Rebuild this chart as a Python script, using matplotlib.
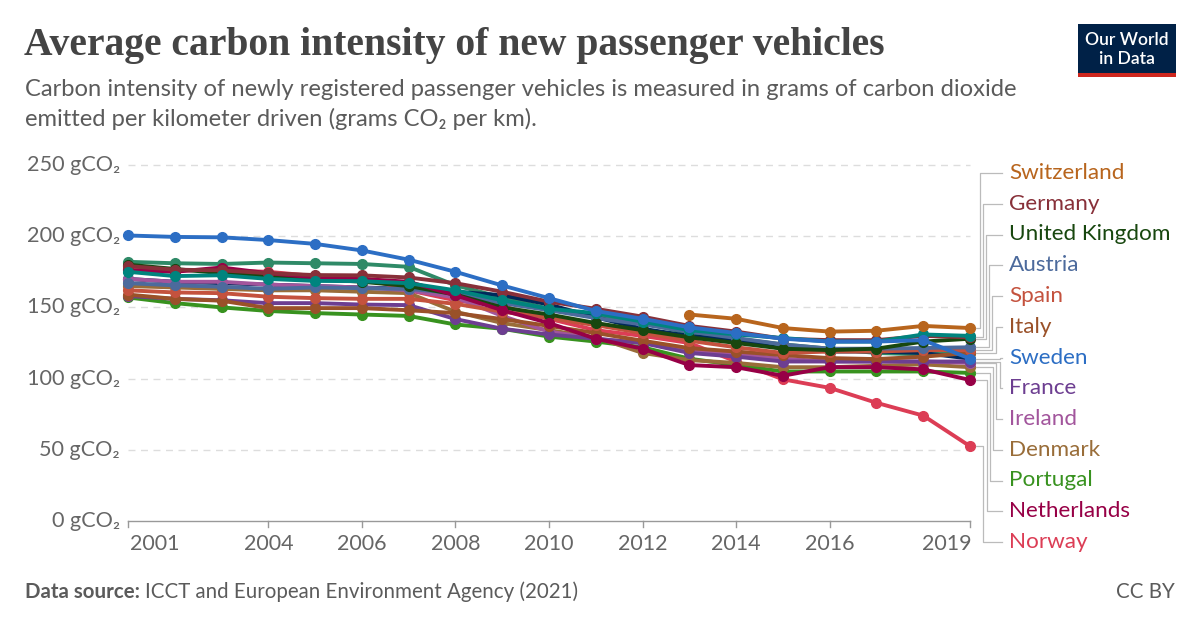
import matplotlib
matplotlib.use("Agg")
import matplotlib.pyplot as plt
from matplotlib.patches import Rectangle
from matplotlib.lines import Line2D

years = list(range(2001, 2020))

# Labelled series (in legend order, top to bottom)
switzerland_years = [2013, 2014, 2015, 2016, 2017, 2018, 2019]
switzerland = [145, 142, 135.5, 133, 133.6, 137, 135.5]
germany = [179, 176.5, 176, 174, 172.7, 172.5, 171, 167, 161, 154, 149, 143.5, 137, 133, 128, 127, 127, 130, 129]
united_kingdom = [180, 177, 174, 172, 170, 168, 165, 159, 150, 145, 139, 134, 129, 125, 121, 120, 121, 126, 128]
austria = [167, 165.5, 164.5, 163, 164, 163.5, 163, 160, 153, 148, 142.5, 138, 133, 128.5, 124, 121, 121, 121.5, 122]
spain = [162, 160.5, 160, 157.5, 156.5, 156, 156, 152.5, 147, 142.5, 137.5, 132, 126.6, 122, 118, 119, 119, 120, 120]
italy = [159, 156, 154.7, 149.5, 149.5, 149.5, 148, 146, 141.8, 137, 132, 126.6, 121.4, 119, 116.5, 114.4, 113.7, 115.4, 118]
sweden = [200.5, 199.5, 199.2, 197.3, 194.6, 190, 183.5, 175, 165.4, 156.5, 147.5, 142, 136, 132, 128, 126, 126, 127, 114]
france = [158, 156, 155, 153, 153, 152, 151.6, 141.8, 135, 131, 128, 125, 118, 115.4, 112, 112, 112, 112, 112]
ireland = [170, 168, 168, 166, 165, 164, 162, 157, 144, 133, 128, 125, 120, 117, 114, 112, 112, 112, 111]
denmark = [165, 164, 163, 162, 162, 161, 160, 147, 139, 134, 129, 118, 113, 111, 108, 108, 109, 110, 108]
portugal = [157, 153, 150, 147.5, 146, 145, 144, 138, 135, 129.5, 126, 122, 114, 109.5, 105, 105, 105, 105, 104]
netherlands = [176, 175, 178, 174, 171, 170, 168, 158.5, 148, 139, 128, 121, 109.5, 108, 102, 108, 108, 106.5, 99]
norway = [177, 176, 176, 175, 172, 171, 162, 155, 151, 142, 134, 130, 125, 112, 99.5, 93.5, 83, 74, 52.5]

# Series drawn without a label in the reference
unlabeled_sea_green = [182, 181, 180.5, 181.5, 181, 180.5, 178.5, 165.5, 157, 149, 144, 139, 132, 128, 124, 121, 118, 117, 118]
unlabeled_teal = [175, 172, 172.6, 170, 168.6, 168.4, 167, 162, 155, 149, 146, 140, 134, 131, 128.5, 126, 126, 131, 130]
unlabeled_navy = [170, 168, 167, 166, 165, 164, 163, 161, 158.6, 152, 143, 135, 130, 127, 121, 119, 119, 118, 114]

labels = ["Switzerland", "Germany", "United Kingdom", "Austria", "Spain", "Italy", "Sweden",
          "France", "Ireland", "Denmark", "Portugal", "Netherlands", "Norway"]
colors = ["#b8651d", "#883039", "#18470f", "#4c6a9c", "#c4523e", "#9a5129", "#2c6ec4",
          "#6d3e91", "#a2559c", "#996d39", "#38921f", "#970046", "#dc3d55"]
series = [switzerland, germany, united_kingdom, austria, spain, italy, sweden,
          france, ireland, denmark, portugal, netherlands, norway]
series_x = [switzerland_years] + [years] * 12

unl_series = [unlabeled_sea_green, unlabeled_teal, unlabeled_navy]
unl_colors = ["#2f8a67", "#00847e", "#00295b"]

y_ticks = [0, 50, 100, 150, 200, 250]
x_ticks = [2001, 2004, 2006, 2008, 2010, 2012, 2014, 2016, 2019]

W, H = 1200, 627
fig = plt.figure(figsize=(W / 100, H / 100), dpi=100)
fig.patch.set_facecolor("white")

def fx(x):
    return x / W

def fy(y):
    return 1 - y / H

ax_l, ax_r, ax_t, ax_b = 128, 970, 165, 521
ax = fig.add_axes([fx(ax_l), fy(ax_b), (ax_r - ax_l) / W, (ax_b - ax_t) / H])
ax.set_xlim(2001, 2019)
ax.set_ylim(0, 250)
ax.axis("off")

# gridlines
for t in y_ticks[1:]:
    ax.plot([2001, 2019], [t, t], color="#dddddd", lw=1, ls=(0, (5, 4)), zorder=0, clip_on=False)
ax.plot([2001, 2019], [0, 0], color="#999999", lw=1, zorder=0, clip_on=False)

# tick marks
for t in x_ticks:
    ax.plot([t, t], [0, -4.5], color="#999999", lw=1, clip_on=False)

lw, ms = 2.8, 7

def draw(xs, ys, c, z):
    ax.plot(xs, ys, color=c, lw=lw, marker="o", ms=ms, clip_on=False, zorder=z)

# drawing order (bottom to top)
draw(years, unlabeled_sea_green, unl_colors[0], 1.9)
draw(years, unlabeled_navy, unl_colors[2], 2.0)
lab_order = [12, 10, 9, 8, 7, 5, 4, 3, 2, 11, 1]
z = 2.1
for i in lab_order:
    draw(series_x[i], series[i], colors[i], z)
    z += 0.01
draw(years, unlabeled_teal, unl_colors[1], z); z += 0.01
draw(series_x[6], series[6], colors[6], z); z += 0.01
draw(series_x[0], series[0], colors[0], z)

font = "Lato"
# y tick labels
for t in y_ticks:
    _, ypix = ax.transData.transform((2001, t))
    fig.text(fx(120), ypix / H, f"{t} gCO\u2082", ha="right", va="center",
             fontsize=15.6, color="#666666", family=font)

# x tick labels
for t in x_ticks:
    xpix, _ = ax.transData.transform((t, 0))
    ha = "center"
    if t == x_ticks[0]:
        ha = "left"
        xpix = xpix + 2
    elif t == x_ticks[-1]:
        ha = "right"
        xpix = xpix + 2
    fig.text(xpix / W, fy(544), str(t), ha=ha, va="center", fontsize=15.5,
             color="#666666", family=font)

# legend labels with connectors
label_y0, label_step = 173, 30.75
conn_x = [980, 983, 986, 989, 992, 996, 1000, 1000, 996, 993, 990, 987, 983]
for k, (lab, c, s, sx) in enumerate(zip(labels, colors, series, series_x)):
    ly = label_y0 + k * label_step
    ex, ey = ax.transData.transform((sx[-1], s[-1]))
    ey_pix = H - ey
    xs = [ex + 6, conn_x[k], conn_x[k], 1002]
    ys = [ey_pix, ey_pix, ly, ly]
    fig.add_artist(Line2D([fx(v) for v in xs], [fy(v) for v in ys], color="#bbbbbb",
                          lw=0.9, transform=fig.transFigure, zorder=1))
    fig.text(fx(1009), fy(ly), lab, ha="left", va="center", fontsize=16.2,
             color=c, family=font)

# title & subtitle
fig.text(fx(24), fy(45), "Average carbon intensity of new passenger vehicles",
         ha="left", va="center", fontsize=28.5, color="#444444",
         family="Liberation Serif", fontweight="bold")
fig.text(fx(25), fy(90), "Carbon intensity of newly registered passenger vehicles is measured in grams of carbon dioxide",
         ha="left", va="center", fontsize=17.1, color="#5b5b5b", family=font)
fig.text(fx(25), fy(119), "emitted per kilometer driven (grams CO\u2082 per km).",
         ha="left", va="center", fontsize=17.1, color="#5b5b5b", family=font)

# footer
t1 = fig.text(fx(25), fy(592), "Data source:", ha="left", va="center", fontsize=14.8,
              color="#5b5b5b", family=font, fontweight="bold")
fig.canvas.draw()
bb = t1.get_window_extent()
fig.text((bb.x1 + 5) / W, fy(592), "ICCT and European Environment Agency (2021)",
         ha="left", va="center", fontsize=14.8, color="#5b5b5b", family=font)
fig.text(fx(1175), fy(592), "CC BY", ha="right", va="center", fontsize=14.8,
         color="#5b5b5b", family=font)

# logo
fig.add_artist(Rectangle((fx(1078), fy(77)), 98 / W, 53 / H, transform=fig.transFigure,
                         facecolor="#002147", edgecolor="none"))
fig.add_artist(Rectangle((fx(1078), fy(77)), 98 / W, 4 / H, transform=fig.transFigure,
                         facecolor="#ce261e", edgecolor="none"))
fig.text(fx(1127), fy(40), "Our World", ha="center", va="center", fontsize=12.6,
         color="white", family=font, fontweight="semibold")
fig.text(fx(1127), fy(59), "in Data", ha="center", va="center", fontsize=12.6,
         color="white", family=font, fontweight="semibold")

fig.savefig("out.png", dpi=100)
